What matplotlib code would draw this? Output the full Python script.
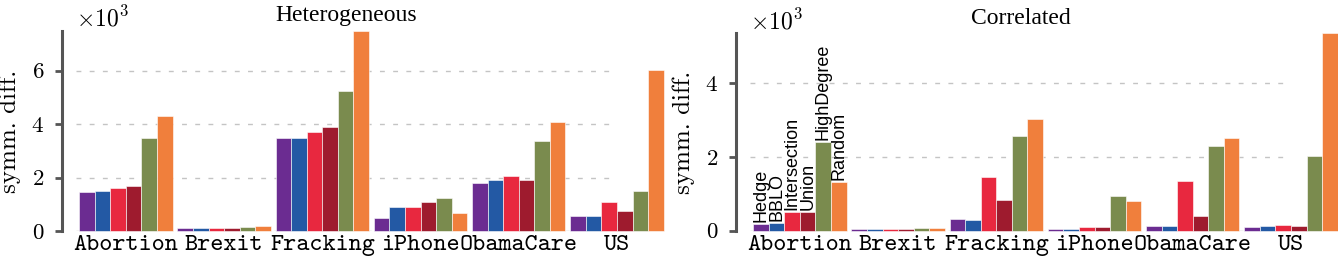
import matplotlib
matplotlib.use('Agg')
import matplotlib.pyplot as plt
import numpy as np
from matplotlib.ticker import ScalarFormatter

# categories and methods
topics = ['Abortion', 'Brexit', 'Fracking', 'iPhone', 'ObamaCare', 'US']
methods = ['Hedge', 'BBLO', 'Intersection', 'Union', 'HighDegree', 'Random']
colors = ['#6B2C91', '#2359A4', '#E8283F', '#9E1B2E', '#7A8B4E', '#F07F3C']

# Heterogeneous panel (symm. diff.)
het_hedge = [1470, 100, 3470, 500, 1810, 570]
het_bblo = [1510, 100, 3470, 910, 1890, 570]
het_intersection = [1620, 100, 3700, 910, 2040, 1100]
het_union = [1700, 100, 3890, 1090, 1890, 760]
het_highdegree = [3470, 140, 5250, 1250, 3350, 1510]
het_random = [4300, 175, 7480, 690, 4070, 6020]

# Correlated panel (symm. diff.)
cor_hedge = [180, 55, 330, 55, 140, 110]
cor_bblo = [220, 55, 300, 55, 140, 135]
cor_intersection = [495, 55, 1470, 110, 1355, 163]
cor_union = [495, 55, 830, 110, 405, 135]
cor_highdegree = [2405, 80, 2580, 950, 2305, 2035]
cor_random = [1330, 80, 3020, 820, 2525, 5360]

panels = [
    ('Heterogeneous', [het_hedge, het_bblo, het_intersection, het_union, het_highdegree, het_random]),
    ('Correlated', [cor_hedge, cor_bblo, cor_intersection, cor_union, cor_highdegree, cor_random]),
]

plt.rcParams['font.family'] = 'cmr10'
plt.rcParams['mathtext.fontset'] = 'cm'
plt.rcParams['axes.formatter.use_mathtext'] = True

W, H = 1338, 259
fig = plt.figure(figsize=(W / 100, H / 100), dpi=100)
# axes boxes in pixels: left, bottom, width, height
boxes = [(76, 28, 541, 200), (750, 28.3, 541, 197.4)]

x = np.arange(len(topics))
bar_w = 0.1585

for (title, series), box in zip(panels, boxes):
    ax = fig.add_axes([box[0] / W, box[1] / H, box[2] / W, box[3] / H])
    for k, (name, vals, col) in enumerate(zip(methods, series, colors)):
        ax.bar(x + (k - 2.5) * bar_w, vals, bar_w, color=col, edgecolor='white',
               linewidth=0.4, clip_on=False, zorder=3)
        # method names only on the Abortion group of the Correlated panel
        if title == 'Correlated':
            ax.annotate(name, (x[0] + (k - 2.5) * bar_w, vals[0]), xytext=(0, 1.5),
                        textcoords='offset points', rotation=90, ha='center', va='bottom',
                        fontfamily='Liberation Sans', fontsize=13, zorder=4)

    ymax = max(max(v) for v in series)
    ax.set_xlim(-0.508, 4.99)
    ax.set_ylim(0, ymax)
    ax.set_yticks(np.arange(0, ymax, 2000))

    fmt = ScalarFormatter(useMathText=True)
    fmt.set_powerlimits((0, 0))
    ax.yaxis.set_major_formatter(fmt)
    ax.yaxis.get_offset_text().set_fontsize(17)

    ax.set_xticks(x)
    ax.set_xticklabels(topics, fontfamily='cmtt10', fontsize=18)
    ax.tick_params(axis='x', length=0, pad=3)
    ax.tick_params(axis='y', length=5, width=2, color='#555555', pad=8, labelsize=16.5)

    for s in ['top', 'right', 'bottom']:
        ax.spines[s].set_visible(False)
    ax.spines['left'].set_position(('outward', 10))
    ax.spines['left'].set_color('#555555')
    ax.spines['left'].set_linewidth(2.2)

    ax.yaxis.grid(True, linestyle=(0, (3.5, 6)), color='#c4c4c4', linewidth=1)
    ax.set_axisbelow(True)

    ax.set_ylabel('symm. diff.', fontsize=18, labelpad=7)
    ax.set_title(title, fontfamily='Liberation Serif', fontsize=17, pad=7)

fig.savefig('out.png', dpi=100)
